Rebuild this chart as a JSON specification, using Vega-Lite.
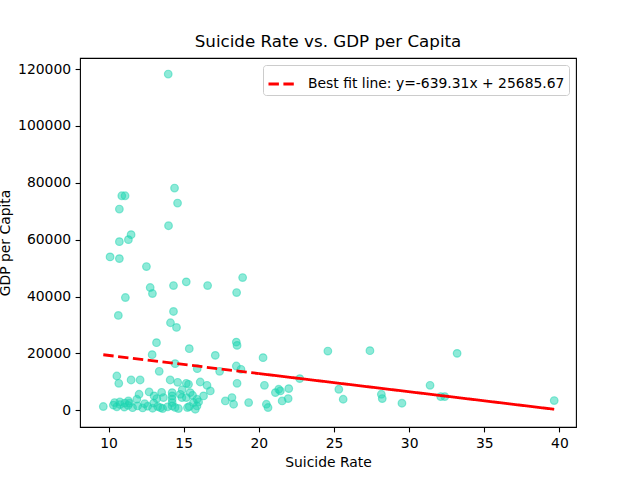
{
  "$schema": "https://vega.github.io/schema/vega-lite/v6.json",
  "autosize": {"type": "none"},
  "width": 496,
  "height": 369,
  "padding": {"left": 80, "top": 58, "right": 64, "bottom": 53},
  "background": "white",
  "title": {"text": "Suicide Rate vs. GDP per Capita", "font": "DejaVu Sans", "fontSize": 16.7, "fontWeight": "normal", "color": "black", "offset": 7},
  "config": {
    "view": {"stroke": "black", "strokeWidth": 1.1},
    "axis": {"grid": false, "domain": false, "tickColor": "black", "tickSize": 4.9, "tickWidth": 1.1, "labelFont": "DejaVu Sans", "labelFontSize": 13.9, "labelColor": "black", "titleFont": "DejaVu Sans", "titleFontSize": 13.9, "titleFontWeight": "normal", "titleColor": "black", "labelPadding": 4.5}
  },
  "datasets": {
    "pts": [
      {"rate": 13.97, "gdp": 118250}, {"rate": 14.39, "gdp": 78150}, {"rate": 10.88, "gdp": 75440}, {"rate": 11.1, "gdp": 75440},
      {"rate": 14.59, "gdp": 72880}, {"rate": 10.72, "gdp": 70770}, {"rate": 13.99, "gdp": 64900}, {"rate": 11.5, "gdp": 61760},
      {"rate": 11.32, "gdp": 60000}, {"rate": 10.72, "gdp": 59300}, {"rate": 10.1, "gdp": 53930}, {"rate": 10.72, "gdp": 53340},
      {"rate": 12.52, "gdp": 50530}, {"rate": 18.92, "gdp": 46670}, {"rate": 15.17, "gdp": 45160}, {"rate": 12.77, "gdp": 43160},
      {"rate": 14.32, "gdp": 43860}, {"rate": 16.59, "gdp": 43860}, {"rate": 12.92, "gdp": 41050}, {"rate": 18.52, "gdp": 41400},
      {"rate": 11.12, "gdp": 39650}, {"rate": 14.32, "gdp": 34740}, {"rate": 10.65, "gdp": 33340}, {"rate": 14.12, "gdp": 30770},
      {"rate": 14.52, "gdp": 29120}, {"rate": 13.19, "gdp": 23760}, {"rate": 18.5, "gdp": 23970}, {"rate": 18.55, "gdp": 22810},
      {"rate": 12.9, "gdp": 19540}, {"rate": 15.37, "gdp": 21650}, {"rate": 17.1, "gdp": 19300}, {"rate": 20.28, "gdp": 18490},
      {"rate": 24.59, "gdp": 20810}, {"rate": 27.39, "gdp": 20950}, {"rate": 33.19, "gdp": 20000}, {"rate": 13.37, "gdp": 13690},
      {"rate": 14.43, "gdp": 16380}, {"rate": 15.9, "gdp": 14630}, {"rate": 17.39, "gdp": 13690}, {"rate": 18.5, "gdp": 15550},
      {"rate": 18.81, "gdp": 14390}, {"rate": 10.55, "gdp": 12040}, {"rate": 10.68, "gdp": 9470}, {"rate": 11.5, "gdp": 10640},
      {"rate": 12.1, "gdp": 10640}, {"rate": 14.1, "gdp": 10640}, {"rate": 14.6, "gdp": 9820}, {"rate": 15.17, "gdp": 9470},
      {"rate": 15.32, "gdp": 9120}, {"rate": 16.1, "gdp": 9930}, {"rate": 16.55, "gdp": 8770}, {"rate": 16.77, "gdp": 6780},
      {"rate": 18.55, "gdp": 9470}, {"rate": 20.37, "gdp": 8770}, {"rate": 22.72, "gdp": 11120}, {"rate": 31.39, "gdp": 8770},
      {"rate": 14.9, "gdp": 7200}, {"rate": 15.43, "gdp": 6200}, {"rate": 15.59, "gdp": 5260}, {"rate": 16.32, "gdp": 5030},
      {"rate": 15.88, "gdp": 3860}, {"rate": 15.99, "gdp": 2900}, {"rate": 15.65, "gdp": 2700}, {"rate": 15.88, "gdp": 1500},
      {"rate": 15.37, "gdp": 1300}, {"rate": 14.65, "gdp": 600}, {"rate": 12.7, "gdp": 6430}, {"rate": 12.03, "gdp": 5610},
      {"rate": 13.53, "gdp": 6300}, {"rate": 13.03, "gdp": 5030}, {"rate": 13.21, "gdp": 4100}, {"rate": 13.65, "gdp": 4450},
      {"rate": 11.88, "gdp": 3860}, {"rate": 11.32, "gdp": 3260}, {"rate": 14.23, "gdp": 6200}, {"rate": 14.23, "gdp": 5030},
      {"rate": 14.23, "gdp": 3860}, {"rate": 14.23, "gdp": 2700}, {"rate": 14.23, "gdp": 1500}, {"rate": 14.77, "gdp": 5600},
      {"rate": 14.88, "gdp": 4450}, {"rate": 15.17, "gdp": 4450}, {"rate": 17.77, "gdp": 3260}, {"rate": 18.21, "gdp": 4450},
      {"rate": 18.32, "gdp": 2100}, {"rate": 19.32, "gdp": 2700}, {"rate": 20.5, "gdp": 2100}, {"rate": 20.61, "gdp": 950},
      {"rate": 21.1, "gdp": 6200}, {"rate": 21.32, "gdp": 7370}, {"rate": 21.43, "gdp": 6780}, {"rate": 21.99, "gdp": 7600},
      {"rate": 21.55, "gdp": 3260}, {"rate": 21.95, "gdp": 4100}, {"rate": 25.32, "gdp": 7370}, {"rate": 25.61, "gdp": 3860},
      {"rate": 28.15, "gdp": 5610}, {"rate": 28.21, "gdp": 4100}, {"rate": 29.52, "gdp": 2460}, {"rate": 32.1, "gdp": 4800},
      {"rate": 32.37, "gdp": 4800}, {"rate": 39.65, "gdp": 3400}, {"rate": 9.65, "gdp": 1300}, {"rate": 10.32, "gdp": 1800},
      {"rate": 10.55, "gdp": 1200}, {"rate": 10.77, "gdp": 2000}, {"rate": 11.05, "gdp": 1100}, {"rate": 11.3, "gdp": 1700},
      {"rate": 11.6, "gdp": 900}, {"rate": 11.93, "gdp": 1500}, {"rate": 12.27, "gdp": 800}, {"rate": 12.6, "gdp": 1400},
      {"rate": 12.93, "gdp": 700}, {"rate": 13.27, "gdp": 1300}, {"rate": 13.6, "gdp": 600}, {"rate": 13.93, "gdp": 1200},
      {"rate": 10.4, "gdp": 2700}, {"rate": 10.75, "gdp": 2900}, {"rate": 11.08, "gdp": 2500}, {"rate": 11.39, "gdp": 2460},
      {"rate": 12.4, "gdp": 2300}, {"rate": 13.0, "gdp": 2500}, {"rate": 13.45, "gdp": 900}, {"rate": 15.25, "gdp": 950},
      {"rate": 15.77, "gdp": 350}, {"rate": 14.42, "gdp": 1000}
    ],
    "fit": [
      {"rate": 9.65, "gdp": 19516, "part": "dash", "label": "Best fit line: y=-639.31x + 25685.67"},
      {"rate": 20.0, "gdp": 12899, "part": "dash", "label": "Best fit line: y=-639.31x + 25685.67"},
      {"rate": 20.0, "gdp": 12899, "part": "solid", "label": "Best fit line: y=-639.31x + 25685.67"},
      {"rate": 39.65, "gdp": 337, "part": "solid", "label": "Best fit line: y=-639.31x + 25685.67"}
    ]
  },
  "layer": [
    {
      "data": {"name": "pts"},
      "mark": {"type": "point", "shape": "circle", "filled": false, "fill": "#1ed6b2", "fillOpacity": 0.5, "stroke": "#1ed6b2", "strokeOpacity": 0.5, "strokeWidth": 1.2, "size": 58},
      "encoding": {
        "x": {"field": "rate", "type": "quantitative", "title": "Suicide Rate", "scale": {"domain": [8.1, 41.1], "nice": false, "zero": false}, "axis": {"values": [10, 15, 20, 25, 30, 35, 40], "titlePadding": 5}},
        "y": {"field": "gdp", "type": "quantitative", "title": "GDP per Capita", "scale": {"domain": [-5900, 123900], "nice": false, "zero": false}, "axis": {"values": [0, 20000, 40000, 60000, 80000, 100000, 120000], "format": "d", "titlePadding": 5}}
      }
    },
    {
      "data": {"name": "fit"},
      "mark": {"type": "line", "strokeWidth": 2.8},
      "encoding": {
        "x": {"field": "rate", "type": "quantitative"},
        "y": {"field": "gdp", "type": "quantitative"},
        "strokeDash": {"field": "part", "type": "nominal", "scale": {"domain": ["dash", "solid"], "range": [[10.4, 4.5], [1, 0]]}, "legend": null},
        "color": {"field": "label", "type": "nominal", "scale": {"range": ["#ff0000"]}, "legend": {"title": null, "orient": "top-right", "offset": 7, "symbolType": "stroke", "symbolSize": 729, "symbolStrokeWidth": 2.8, "symbolDash": [10.4, 4.5], "labelFont": "DejaVu Sans", "labelFontSize": 13.9, "labelColor": "black", "labelOffset": 11, "strokeColor": "#cccccc", "fillColor": "white", "padding": 4, "cornerRadius": 3, "labelLimit": 400}}
      }
    }
  ]
}
